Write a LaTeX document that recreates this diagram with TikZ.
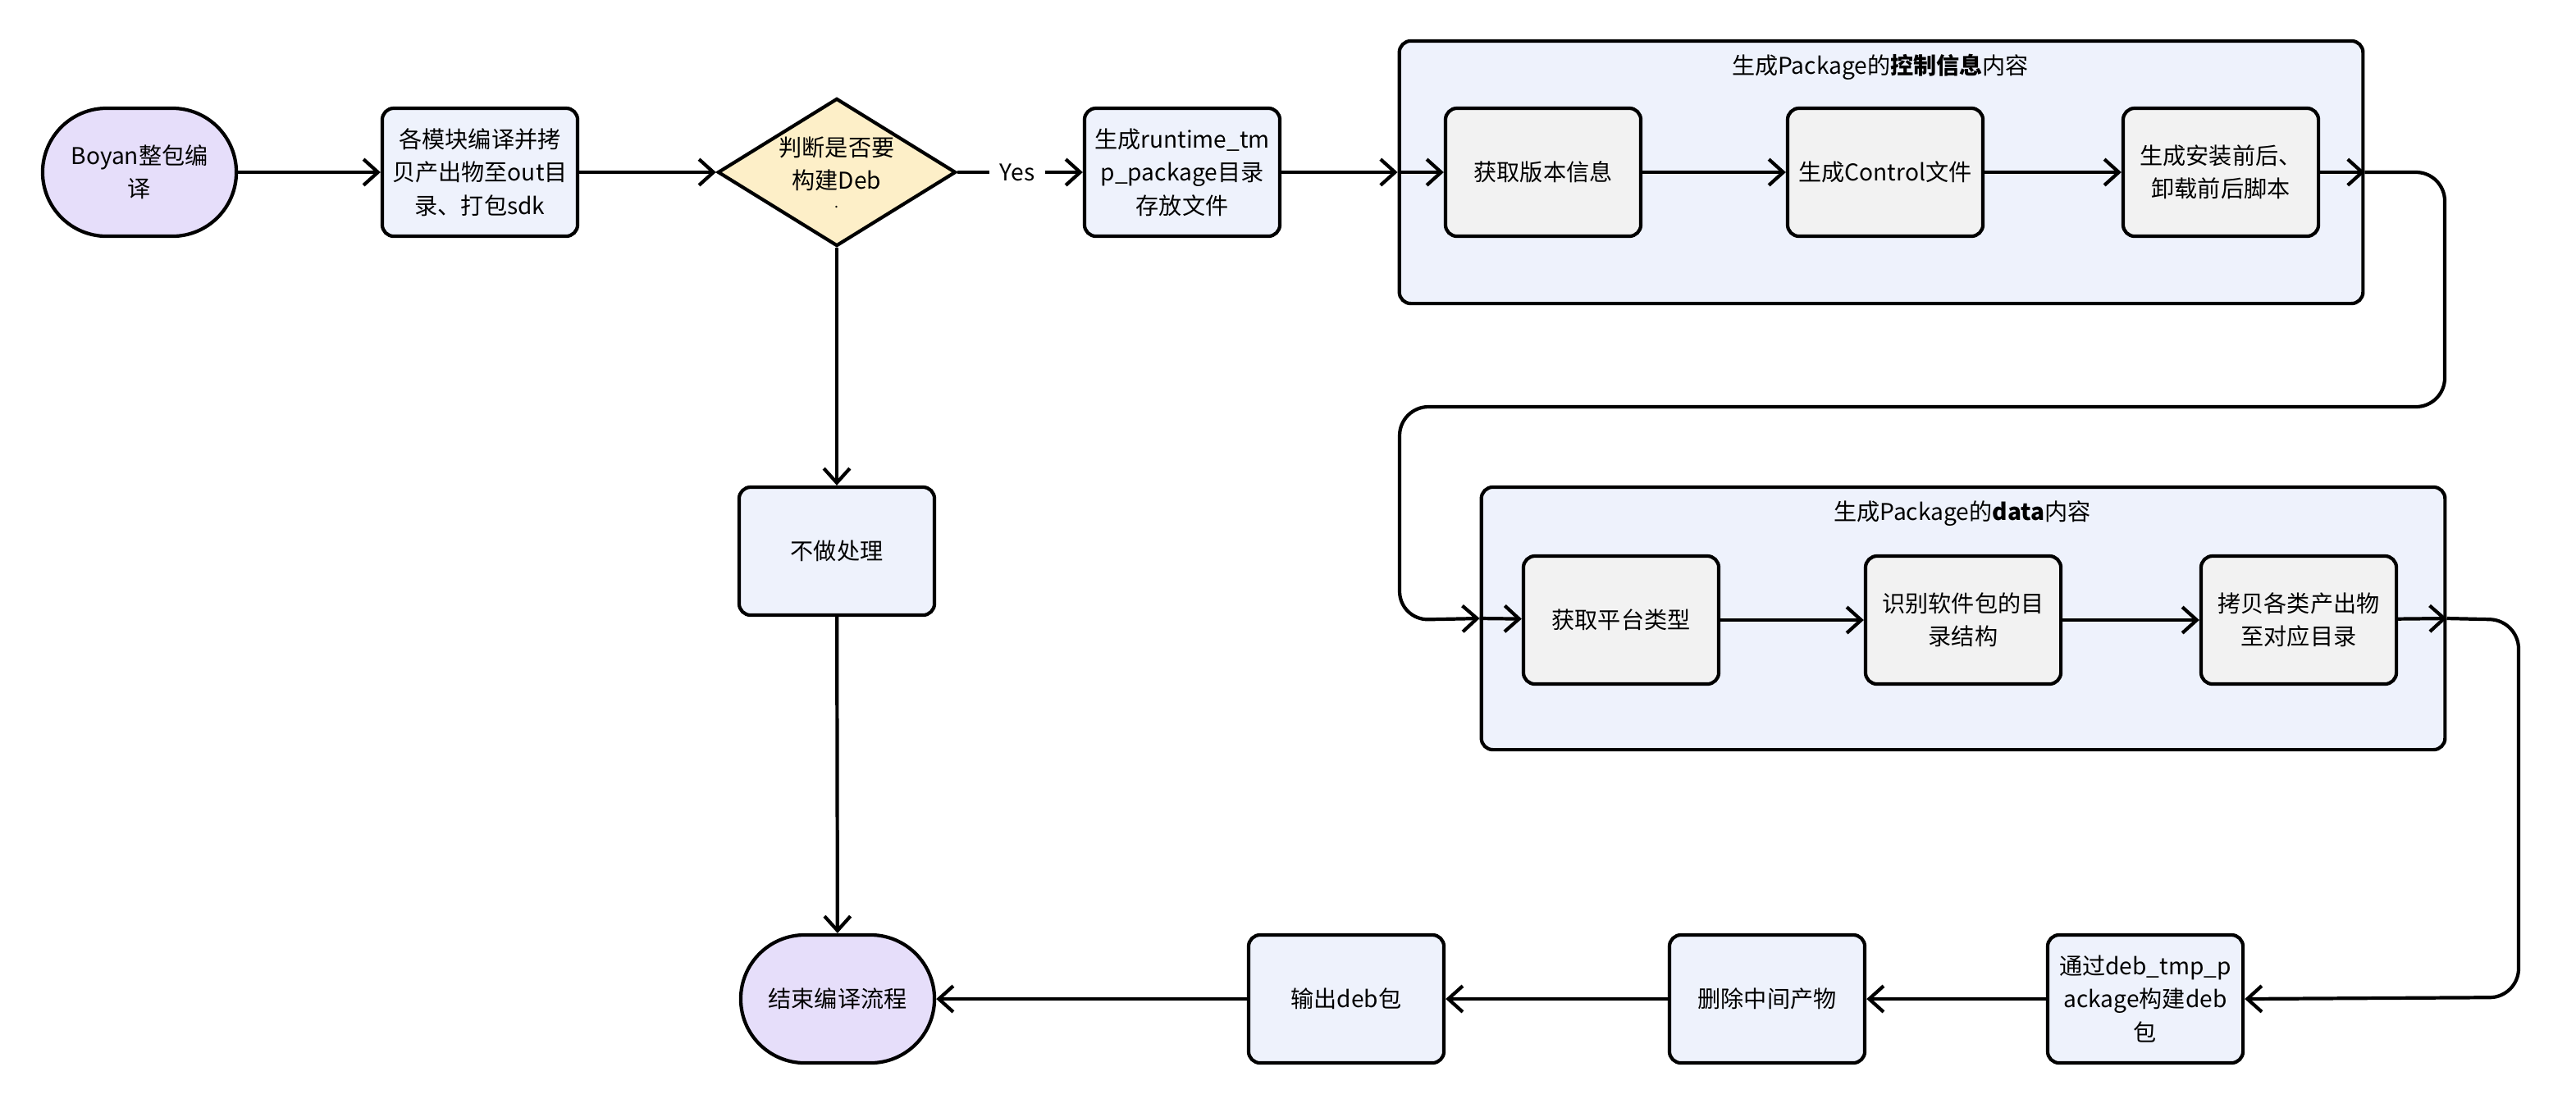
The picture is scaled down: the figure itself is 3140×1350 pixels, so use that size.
\documentclass[tikz,border=0pt]{standalone}
\usepackage{fontspec}
\setmainfont{Noto Sans CJK SC}
\usetikzlibrary{shapes.geometric,arrows.meta}
\definecolor{boxf}{HTML}{EEF2FC}
\definecolor{grayf}{HTML}{F2F2F2}
\definecolor{termf}{HTML}{E6DEFA}
\definecolor{diaf}{HTML}{FDEFC8}
\begin{document}
\begin{tikzpicture}[x=0.01cm,y=-0.01cm,
  every node/.style={font=\fontsize{8}{11.5}\selectfont,align=center},
  box/.style={draw,line width=1.2pt,rounded corners=4pt,minimum width=2.38cm,minimum height=1.56cm,inner sep=1pt,fill=boxf},
  gbox/.style={box,fill=grayf},
  term/.style={draw,line width=1.2pt,rounded corners=0.78cm,minimum width=2.36cm,minimum height=1.56cm,inner sep=1pt,fill=termf},
  grp/.style={draw,line width=1.2pt,rounded corners=4pt,fill=boxf},
  ar/.style={-{Straight Barb[length=5pt,width=9pt]},line width=1.2pt}]
\useasboundingbox (0,0) rectangle (3140,1350);
\fill[white] (0,0) rectangle (3140,1350);
% groups
\node[grp,minimum width=11.74cm,minimum height=3.2cm] (g1) at (2293,210) {};
\node at (2292,82) (t1) {生成Package的\textbf{控制信息}内容};
\node[grp,minimum width=11.74cm,minimum height=3.2cm] (g2) at (2393,754) {};
\node at (2392,626) (t2) {生成Package的\textbf{data}内容};
% nodes
\node[term] (start) at (170,210) {Boyan整包编\\译};
\node[box] (a) at (585,210) {各模块编译并拷\\贝产出物至out目\\录、打包sdk};
\node[diamond,draw,line width=1.2pt,fill=diaf,minimum width=2.9cm,minimum height=1.8cm,aspect=1.6,inner sep=0pt] (d) at (1020,210) {判断是否要\\构建Deb\\[-5pt]{\tiny .}};
\node[box] (r) at (1441,210) {生成runtime\_tm\\p\_package目录\\存放文件};
\node[gbox] (b1) at (1881,210) {获取版本信息};
\node[gbox] (b2) at (2298,210) {生成Control文件};
\node[gbox] (b3) at (2707,210) {生成安装前后、\\卸载前后脚本};
\node[gbox] (c1) at (1976,756) {获取平台类型};
\node[gbox] (c2) at (2393,756) {识别软件包的目\\录结构};
\node[gbox] (c3) at (2802,756) {拷贝各类产出物\\至对应目录};
\node[box] (e1) at (2615,1218) {通过deb\_tmp\_p\\ackage构建deb\\包};
\node[box] (e2) at (2154,1218) {删除中间产物};
\node[box] (e3) at (1641,1218) {输出deb包};
\node[term] (end) at (1021,1218) {结束编译流程};
\node[box] (n) at (1020,672) {不做处理};
% connectors
\draw[ar] (start) -- (a);
\draw[ar] (a) -- (d);
\node (yes) at (1240,210) {Yes};
\draw[line width=1.2pt] (d.east) -- (yes.west);
\draw[ar] (yes.east) -- (r.west);
\draw[ar] (r) -- (g1.west);
\draw[ar] (g1.west) -- (b1);
\draw[ar] (b1) -- (b2);
\draw[ar] (b2) -- (b3);
\draw[ar] (b3) -- (g1.east);
\coordinate (p1) at (2980,210);
\coordinate (p2) at (2980,496);
\coordinate (p3) at (1706,496);
\coordinate (p4) at (1706,756);
\draw[ar,rounded corners=10pt] (g1.east) -- (p1) -- (p2) -- (p3) -- (p4) -- (g2.west);
\draw[ar] (g2.west) -- (c1);
\draw[ar] (c1) -- (c2);
\draw[ar] (c2) -- (c3);
\draw[ar] (c3) -- (g2.east);
\coordinate (q1) at (3070,756);
\coordinate (q2) at (3070,1216);
\draw[ar,rounded corners=10pt] (g2.east) -- (q1) -- (q2) -- (e1.east);
\draw[ar] (e1) -- (e2);
\draw[ar] (e2) -- (e3);
\draw[ar] (e3) -- (end);
\draw[ar] (d) -- (n);
\draw[ar] (n) -- (end);
\end{tikzpicture}
\end{document}
